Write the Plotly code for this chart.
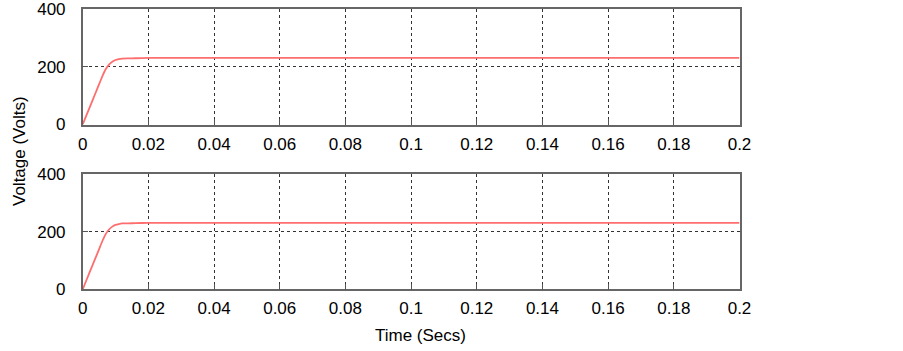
import plotly.graph_objects as go

# Data
t = [0, 0.001, 0.002, 0.003, 0.004, 0.005, 0.006, 0.007, 0.008, 0.009, 0.010, 0.011, 0.012, 0.014, 0.016, 0.02, 0.05, 0.1, 0.15, 0.2]
v_top = [0, 28, 56, 84, 112, 140, 168, 192, 208, 218, 224, 227, 229, 229.5, 230, 231, 231, 231, 231, 231]
v_bot = [0, 28, 56, 84, 112, 140, 168, 192, 208, 218, 224, 227, 229, 229.5, 230, 231, 231, 231, 231, 231]
x_ticks = [0, 0.02, 0.04, 0.06, 0.08, 0.1, 0.12, 0.14, 0.16, 0.18, 0.2]
x_labels = ["0", "0.02", "0.04", "0.06", "0.08", "0.1", "0.12", "0.14", "0.16", "0.18", "0.2"]
y_ticks = [0, 200, 400]
y_labels = ["0", "200", "400"]

W, H = 903, 351
FONT = dict(family="Liberation Sans, Arial, sans-serif", size=17, color="black")
LINE = "rgb(255,110,110)"

def px_x(p):
    return p / W

def px_y(p):
    return 1 - p / H

fig = go.Figure()
fig.add_trace(go.Scatter(x=t, y=v_top, mode="lines", line=dict(color=LINE, width=1.8, shape="spline", smoothing=0.5),
                         xaxis="x", yaxis="y", showlegend=False, hoverinfo="skip"))
fig.add_trace(go.Scatter(x=t, y=v_bot, mode="lines", line=dict(color=LINE, width=1.8, shape="spline", smoothing=0.5),
                         xaxis="x2", yaxis="y2", showlegend=False, hoverinfo="skip"))

xdom = [px_x(82.7), px_x(739.5)]
common_x = dict(range=[0, 0.2], tickvals=x_ticks, ticktext=x_labels, showgrid=True,
                gridcolor="#333", griddash="dot", gridwidth=1.3, zeroline=False,
                showline=True, mirror=True, linecolor="#666", linewidth=1.5,
                ticks="inside", ticklen=6, tickcolor="#555", tickfont=FONT,
                ticklabelstandoff=3, automargin=False, fixedrange=True, domain=xdom)
common_y = dict(range=[0, 400], tickvals=y_ticks, ticktext=y_labels, showgrid=True,
                gridcolor="#333", griddash="dot", gridwidth=1.3, zeroline=False,
                showline=True, mirror=True, linecolor="#666", linewidth=1.5,
                ticks="inside", ticklen=6, tickcolor="#555", tickfont=FONT,
                ticklabelstandoff=12, automargin=False, fixedrange=True)

fig.update_layout(
    width=W, height=H,
    margin=dict(l=0, r=0, t=0, b=0),
    paper_bgcolor="white", plot_bgcolor="white",
    xaxis=dict(**common_x, anchor="y"),
    yaxis=dict(**common_y, anchor="x", domain=[px_y(124.5), px_y(9.3)]),
    xaxis2=dict(**common_x, anchor="y2"),
    yaxis2=dict(**common_y, anchor="x2", domain=[px_y(289.3), px_y(174.3)]),
    annotations=[
        dict(text="Voltage (Volts)", x=px_x(19), y=px_y(151), xref="paper", yref="paper",
             textangle=-90, showarrow=False, font=FONT, xanchor="center", yanchor="middle"),
        dict(text="Time (Secs)", x=px_x(420), y=px_y(335), xref="paper", yref="paper",
             showarrow=False, font=FONT, xanchor="center", yanchor="middle"),
    ],
)

fig.write_html("out.html")
